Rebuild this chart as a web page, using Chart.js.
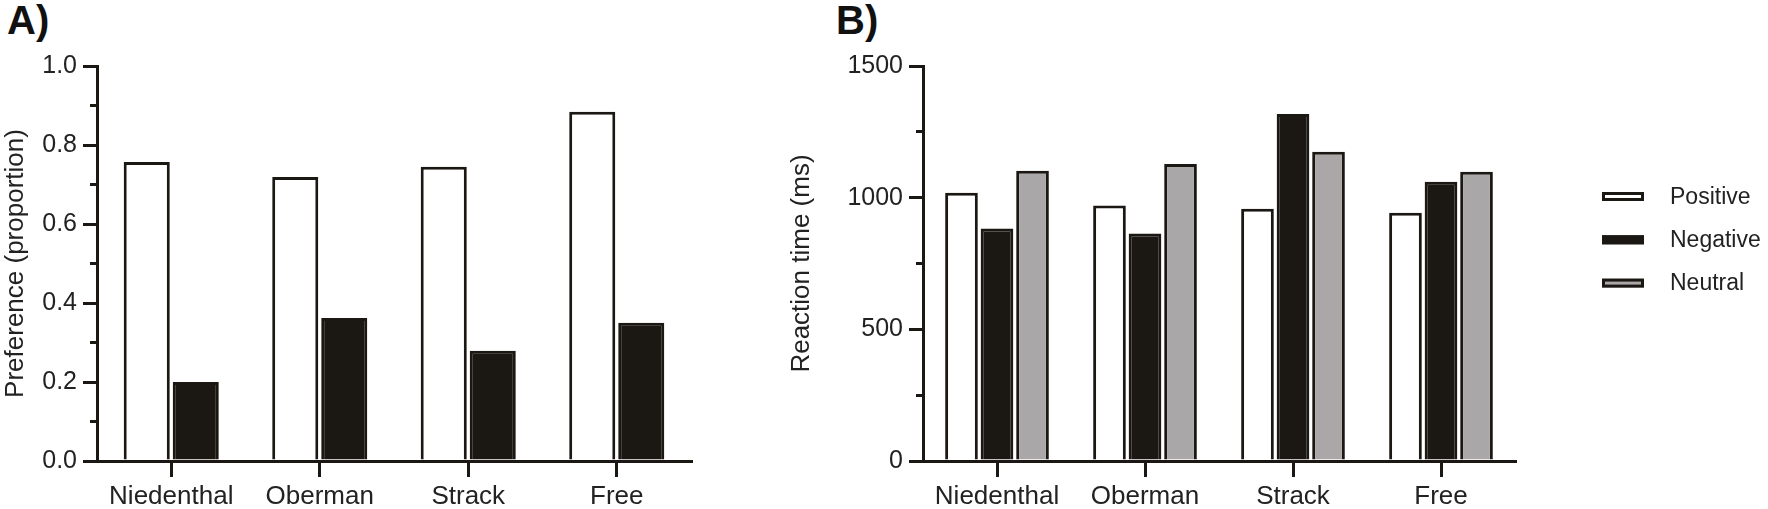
<!DOCTYPE html>
<html><head><meta charset="utf-8">
<script src="https://cdn.jsdelivr.net/npm/chart.js@4.4.0/dist/chart.umd.min.js"></script>
<style>
html,body{margin:0;padding:0;background:#fff;width:1768px;height:509px;overflow:hidden;}
#cA{position:absolute;left:0;top:0;}
#cB{position:absolute;left:786px;top:0;}
.panel{position:absolute;top:0;font-family:"Liberation Sans",Arial,sans-serif;font-weight:bold;font-size:40px;color:#111;line-height:1;}
</style></head>
<body>
<div class="panel" style="left:7px;">A)</div>
<div class="panel" style="left:836px;">B)</div>
<canvas id="cA" width="720" height="509"></canvas>
<canvas id="cB" width="982" height="509"></canvas>
<script>
// ---- data ----
const categories = ['Niedenthal', 'Oberman', 'Strack', 'Free'];
const seriesLabels = ['Positive', 'Negative', 'Neutral'];
const prefPositive = [0.757, 0.719, 0.745, 0.884];
const prefNegative = [0.200, 0.362, 0.279, 0.350];
const rtPositive = [1019, 970, 958, 943];
const rtNegative = [883, 864, 1318, 1060];
const rtNeutral = [1102, 1128, 1174, 1098];
const prefTickLabels = ['0.0', '0.2', '0.4', '0.6', '0.8', '1.0'];
const rtTickLabels = ['0', '500', '1000', '1500'];
const prefAxisTitle = 'Preference (proportion)';
const rtAxisTitle = 'Reaction time (ms)';

// ---- styles ----
const INK = '#1b1712';
const TEXT = '#222222';
const WHITE = '#ffffff';
const GRAY = '#a9a7a8';
const FAMILY = '"Liberation Sans", Arial, Helvetica, sans-serif';
Chart.defaults.font.family = FAMILY;
Chart.defaults.color = TEXT;

function yScale(max, step, labels, title, width) {
  return {
    min: 0, max: max,
    afterFit: s => { s.width = width; },
    border: {display: true, color: INK, width: 3},
    grid: {
      drawOnChartArea: false, drawTicks: true, tickLength: 14, tickWidth: 3, tickColor: INK, lineWidth: 3,
      tickBorderDash: c => (c.index % 2 ? [0, 7, 100] : [])
    },
    ticks: {
      stepSize: step, autoSkip: false, padding: 6, color: TEXT, font: {size: 25},
      callback: (v, i) => (i % 2 === 0 ? labels[i / 2] : '')
    },
    title: {display: true, text: title, color: TEXT, font: {size: 26}, padding: {top: 0, bottom: 0}}
  };
}
function xScale() {
  return {
    afterFit: s => { s.height = 48; },
    border: {display: true, color: INK, width: 3},
    grid: {drawOnChartArea: false, offset: false, drawTicks: true, tickLength: 16, tickWidth: 3, tickColor: INK, lineWidth: 3},
    ticks: {padding: 4, color: TEXT, font: {size: 26}, autoSkip: false, maxRotation: 0}
  };
}

new Chart(document.getElementById('cA'), {
  type: 'bar',
  data: {
    labels: categories,
    datasets: [
      {label: seriesLabels[0], data: prefPositive, backgroundColor: WHITE, borderColor: INK, borderWidth: 3},
      {label: seriesLabels[1], data: prefNegative, backgroundColor: INK, borderColor: INK, borderWidth: 3}
    ]
  },
  options: {
    responsive: false, animation: false, devicePixelRatio: 1,
    categoryPercentage: 0.66, barPercentage: 0.94,
    layout: {padding: {left: 0, top: 66, right: 29, bottom: 0}},
    plugins: {legend: {display: false}, tooltip: {enabled: false}},
    scales: {x: xScale(), y: yScale(1, 0.1, prefTickLabels, prefAxisTitle, 97)}
  }
});

const boxLegend = {
  id: 'boxLegend',
  afterDraw(chart, args, o) {
    const ctx = chart.ctx;
    chart.data.datasets.forEach((ds, i) => {
      const y = o.y0 + i * o.dy;
      ctx.save();
      ctx.fillStyle = ds.backgroundColor;
      ctx.fillRect(o.x, y - o.h / 2, o.w, o.h);
      ctx.lineWidth = 3;
      ctx.strokeStyle = ds.borderColor;
      ctx.strokeRect(o.x + 1.5, y - o.h / 2 + 1.5, o.w - 3, o.h - 3);
      ctx.fillStyle = TEXT;
      ctx.font = '23px ' + FAMILY;
      ctx.textBaseline = 'middle';
      ctx.textAlign = 'left';
      ctx.fillText(ds.label, o.x + o.w + o.gap, y + 1);
      ctx.restore();
    });
  }
};

new Chart(document.getElementById('cB'), {
  type: 'bar',
  data: {
    labels: categories,
    datasets: [
      {label: seriesLabels[0], data: rtPositive, backgroundColor: WHITE, borderColor: INK, borderWidth: 3},
      {label: seriesLabels[1], data: rtNegative, backgroundColor: INK, borderColor: INK, borderWidth: 3},
      {label: seriesLabels[2], data: rtNeutral, backgroundColor: GRAY, borderColor: INK, borderWidth: 3}
    ]
  },
  options: {
    responsive: false, animation: false, devicePixelRatio: 1,
    categoryPercentage: 0.72, barPercentage: 0.92,
    layout: {padding: {left: 0, top: 66, right: 253, bottom: 0}},
    plugins: {
      legend: {display: false}, tooltip: {enabled: false},
      boxLegend: {x: 816, w: 42, h: 9, y0: 196.5, dy: 43.3, gap: 26}
    },
    scales: {x: xScale(), y: yScale(1500, 250, rtTickLabels, rtAxisTitle, 137)}
  },
  plugins: [boxLegend]
});
</script>
</body></html>
